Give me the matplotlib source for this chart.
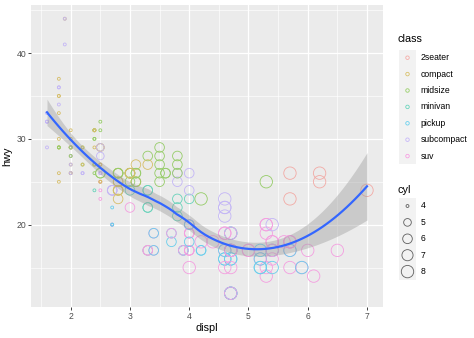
"""mpg: highway mileage vs engine displacement, coloured by class, sized by cyl,
with a loess smooth (span 0.75, quadratic) and its 95% band."""

import matplotlib

matplotlib.use("Agg")
import matplotlib.pyplot as plt
import numpy as np
from matplotlib.colors import to_rgb
from matplotlib.patches import Rectangle

# ---- data (one entry per car, same order in every list) ----
DISPL = [
    1.8, 1.8, 2.0, 2.0, 2.8, 2.8, 3.1,                       # audi a4
    1.8, 1.8, 2.0, 2.0, 2.8, 2.8, 3.1, 3.1,                  # a4 quattro
    2.8, 3.1, 4.2,                                           # a6 quattro
    5.3, 5.3, 5.3, 5.7, 6.0,                                 # suburban
    5.7, 5.7, 6.2, 6.2, 7.0,                                 # corvette
    5.3, 5.3, 5.7, 6.5,                                      # k1500 tahoe
    2.4, 2.4, 3.1, 3.5, 3.6,                                 # malibu
    2.4, 3.0, 3.3, 3.3, 3.3, 3.3, 3.3, 3.8, 3.8, 3.8, 4.0,   # caravan
    3.7, 3.7, 3.9, 3.9, 4.7, 4.7, 4.7, 5.2, 5.2,             # dakota
    3.9, 4.7, 4.7, 4.7, 5.2, 5.7, 5.9,                       # durango
    4.7, 4.7, 4.7, 4.7, 4.7, 4.7, 5.2, 5.2, 5.7, 5.9,        # ram 1500
    4.6, 5.4, 5.4,                                           # expedition
    4.0, 4.0, 4.0, 4.0, 4.6, 5.0,                            # explorer
    4.2, 4.2, 4.6, 4.6, 4.6, 5.4, 5.4,                       # f150
    3.8, 3.8, 4.0, 4.0, 4.6, 4.6, 4.6, 4.6, 5.4,             # mustang
    1.6, 1.6, 1.6, 1.6, 1.6, 1.8, 1.8, 1.8, 2.0,             # civic
    2.4, 2.4, 2.4, 2.4, 2.5, 2.5, 3.3,                       # sonata
    2.0, 2.0, 2.0, 2.0, 2.7, 2.7, 2.7,                       # tiburon
    3.0, 3.7, 4.0, 4.7, 4.7, 4.7, 5.7, 6.1,                  # grand cherokee
    4.0, 4.2, 4.4, 4.6,                                      # range rover
    5.4, 5.4, 5.4,                                           # navigator
    4.0, 4.0, 4.6, 5.0,                                      # mountaineer
    2.4, 2.4, 2.5, 2.5, 3.5, 3.5,                            # altima
    3.0, 3.0, 3.5,                                           # maxima
    3.3, 3.3, 4.0, 5.6,                                      # pathfinder
    3.1, 3.8, 3.8, 3.8, 5.3,                                 # grand prix
    2.5, 2.5, 2.5, 2.5, 2.5, 2.5,                            # forester
    2.2, 2.2, 2.5, 2.5, 2.5, 2.5, 2.5, 2.5,                  # impreza
    2.7, 2.7, 3.4, 3.4, 4.0, 4.7,                            # 4runner
    2.2, 2.2, 2.4, 2.4, 3.0, 3.0, 3.5,                       # camry
    2.2, 2.2, 2.4, 2.4, 3.0, 3.0, 3.3,                       # camry solara
    1.8, 1.8, 1.8, 1.8, 1.8,                                 # corolla
    4.7, 5.7,                                                # land cruiser
    2.7, 2.7, 2.7, 3.4, 3.4, 4.0, 4.0,                       # tacoma
    2.0, 2.0, 2.0, 2.0, 2.8,                                 # gti
    1.9, 2.0, 2.0, 2.0, 2.0, 2.5, 2.5, 2.8, 2.8,             # jetta
    1.9, 1.9, 2.0, 2.0, 2.5, 2.5,                            # new beetle
    1.8, 1.8, 2.0, 2.0, 2.8, 2.8, 3.6,                       # passat
]
HWY = [
    29, 29, 31, 30, 26, 26, 27,
    26, 25, 28, 27, 25, 25, 25, 25,
    24, 25, 23,
    20, 15, 20, 17, 17,
    26, 23, 26, 25, 24,
    19, 14, 15, 17,
    27, 30, 26, 29, 26,
    24, 24, 22, 22, 24, 24, 17, 22, 21, 23, 23,
    19, 18, 17, 17, 19, 19, 12, 17, 15,
    17, 17, 12, 17, 16, 18, 15,
    16, 12, 17, 17, 16, 12, 15, 16, 17, 15,
    17, 17, 18,
    17, 19, 17, 19, 19, 17,
    17, 17, 16, 16, 17, 15, 17,
    26, 25, 26, 24, 21, 22, 23, 22, 20,
    33, 32, 32, 29, 32, 34, 36, 36, 29,
    26, 27, 30, 31, 26, 26, 28,
    26, 29, 28, 27, 24, 24, 24,
    22, 19, 20, 17, 12, 19, 18, 14,
    15, 18, 18, 15,
    17, 16, 18,
    17, 19, 19, 17,
    29, 27, 31, 32, 27, 26,
    26, 25, 25,
    17, 17, 20, 18,
    26, 26, 27, 28, 25,
    25, 24, 27, 25, 26, 23,
    26, 26, 26, 26, 25, 27, 25, 27,
    20, 20, 19, 17, 20, 17,
    29, 27, 31, 31, 26, 26, 28,
    27, 29, 31, 31, 26, 26, 27,
    30, 33, 35, 37, 35,
    15, 18,
    20, 20, 22, 17, 19, 18, 20,
    29, 26, 29, 29, 24,
    44, 29, 26, 29, 29, 29, 29, 23, 24,
    44, 41, 29, 26, 28, 29,
    29, 29, 28, 29, 26, 26, 26,
]
CYL = [
    4, 4, 4, 4, 6, 6, 6,
    4, 4, 4, 4, 6, 6, 6, 6,
    6, 6, 8,
    8, 8, 8, 8, 8,
    8, 8, 8, 8, 8,
    8, 8, 8, 8,
    4, 4, 6, 6, 6,
    4, 6, 6, 6, 6, 6, 6, 6, 6, 6, 6,
    6, 6, 6, 6, 8, 8, 8, 8, 8,
    6, 8, 8, 8, 8, 8, 8,
    8, 8, 8, 8, 8, 8, 8, 8, 8, 8,
    8, 8, 8,
    6, 6, 6, 6, 8, 8,
    6, 6, 8, 8, 8, 8, 8,
    6, 6, 6, 6, 8, 8, 8, 8, 8,
    4, 4, 4, 4, 4, 4, 4, 4, 4,
    4, 4, 4, 4, 6, 6, 6,
    4, 4, 4, 4, 6, 6, 6,
    6, 6, 6, 8, 8, 8, 8, 8,
    8, 8, 8, 8,
    8, 8, 8,
    6, 6, 8, 8,
    4, 4, 4, 4, 6, 6,
    6, 6, 6,
    6, 6, 6, 8,
    6, 6, 6, 6, 8,
    4, 4, 4, 4, 4, 4,
    4, 4, 4, 4, 4, 4, 4, 4,
    4, 4, 6, 6, 6, 8,
    4, 4, 4, 4, 6, 6, 6,
    4, 4, 4, 4, 6, 6, 6,
    4, 4, 4, 4, 4,
    8, 8,
    4, 4, 4, 6, 6, 6, 6,
    4, 4, 4, 4, 6,
    4, 4, 4, 4, 4, 5, 5, 6, 6,
    4, 4, 4, 4, 5, 5,
    4, 4, 4, 4, 6, 6, 6,
]
CLASS = (
    ["compact"] * 15 + ["midsize"] * 3 + ["suv"] * 5 + ["2seater"] * 5
    + ["suv"] * 4 + ["midsize"] * 5 + ["minivan"] * 11 + ["pickup"] * 9
    + ["suv"] * 7 + ["pickup"] * 10 + ["suv"] * 9 + ["pickup"] * 7
    + ["subcompact"] * 18 + ["midsize"] * 7 + ["subcompact"] * 7
    + ["suv"] * 19 + ["compact"] * 2 + ["midsize"] * 7 + ["suv"] * 4
    + ["midsize"] * 5 + ["suv"] * 6 + ["subcompact"] * 4 + ["compact"] * 4
    + ["suv"] * 6 + ["midsize"] * 7 + ["compact"] * 12 + ["suv"] * 2
    + ["pickup"] * 7 + ["compact"] * 14 + ["subcompact"] * 6 + ["midsize"] * 7
)

CLASSES = ["2seater", "compact", "midsize", "minivan", "pickup", "subcompact", "suv"]
CLASS_COLORS = ["#F8766D", "#C49A00", "#53B400", "#00C094", "#00B6EB", "#A58AFF", "#FB61D7"]
CYL_LEVELS = [4, 5, 6, 7, 8]

DPI = 100
PX = 72 / DPI  # one output pixel in points
FONT = "Liberation Sans"
PANEL = "#EBEBEB"


def faded(col, bg=PANEL, a=0.55):
    """Thin, washed-out outline colour, pre-mixed so overlaps don't darken."""
    c, b = np.array(to_rgb(col)), np.array(to_rgb(bg))
    return tuple(a * c + (1 - a) * b)


def cyl_diameter_px(c):
    """ggplot area scale, range 1..6, mapped to a circle diameter in pixels."""
    return 1.9 * (1 + 5 * np.sqrt((np.asarray(c, float) - 4) / 4)) + 1.0


def loess(x, y, xs, span=0.75):
    """Local quadratic fit with tricube weights; returns fit and 95% half-width."""
    n = len(x)
    q = int(np.floor(n * span))

    def hat_rows(pts):
        rows = np.empty((len(pts), n))
        for i, x0 in enumerate(pts):
            d = np.abs(x - x0)
            h = np.sort(d)[q - 1]
            w = np.clip(1 - (d / h) ** 3, 0, None) ** 3
            X = np.column_stack([np.ones(n), x - x0, (x - x0) ** 2])
            XtW = X.T * w
            rows[i] = np.linalg.solve(XtW @ X, XtW)[0]
        return rows

    L = hat_rows(x)
    resid = y - L @ y
    M = np.eye(n) - L
    delta1 = np.trace(M.T @ M)
    sigma = np.sqrt(np.sum(resid ** 2) / delta1)
    Ls = hat_rows(xs)
    fit = Ls @ y
    se = sigma * np.sqrt(np.sum(Ls ** 2, axis=1))
    return fit, 1.97 * se


def main():
    x = np.array(DISPL, float)
    y = np.array(HWY, float)
    cyl = np.array(CYL)
    colour_of = dict(zip(CLASSES, CLASS_COLORS))

    fig = plt.figure(figsize=(474 / DPI, 338 / DPI), dpi=DPI)
    ax = fig.add_axes([31 / 474, 1 - 307 / 338, (383 - 31) / 474, (307 - 5) / 338])
    ax.set_facecolor(PANEL)
    for s in ax.spines.values():
        s.set_visible(False)

    xr, yr = x.max() - x.min(), y.max() - y.min()
    ax.set_xlim(x.min() - 0.05 * xr, x.max() + 0.05 * xr)
    ax.set_ylim(y.min() - 0.05 * yr, y.max() + 0.05 * yr)
    ax.set_xticks([2, 3, 4, 5, 6, 7])
    ax.set_yticks([20, 30, 40])
    ax.set_xticks([1.5, 2.5, 3.5, 4.5, 5.5, 6.5], minor=True)
    ax.set_yticks([15, 25, 35, 45], minor=True)
    ax.grid(which="major", color="white", lw=1.3 * PX)
    ax.grid(which="minor", color="white", lw=0.65 * PX)
    ax.set_axisbelow(True)
    ax.tick_params(which="major", length=2.6 * PX, width=0.9 * PX, color="#333333",
                   pad=2 * PX, labelsize=6.2, labelcolor="#4D4D4D")
    ax.tick_params(which="minor", length=0)
    for lab in ax.get_xticklabels() + ax.get_yticklabels():
        lab.set_fontfamily(FONT)

    # points in row order, like ggplot (later rows sit on top)
    ax.scatter(x, y, s=(cyl_diameter_px(cyl) * PX) ** 2, facecolors="none",
               edgecolors=[faded(colour_of[c]) for c in CLASS], linewidths=0.85 * PX)

    xs = np.linspace(x.min(), x.max(), 80)
    fit, hw = loess(x, y, xs)
    ax.fill_between(xs, fit - hw, fit + hw, color="#999999", alpha=0.4, lw=0)
    ax.plot(xs, fit, color="#3366FF", lw=2.2 * PX)

    ax.set_xlabel("displ", fontsize=7.8, family=FONT, labelpad=2.5 * PX)
    ax.set_ylabel("hwy", fontsize=7.8, family=FONT, labelpad=4 * PX)

    # legends drawn in pixel space on an overlay
    leg = fig.add_axes([0, 0, 1, 1], zorder=5)
    leg.set_xlim(0, 474)
    leg.set_ylim(338, 0)
    leg.axis("off")
    kx, kw, step = 399.5, 17, 16.4
    key_bg = "#F2F2F2"

    leg.text(398, 39, "class", fontsize=7.8, family=FONT, va="center")
    y0 = 57.7
    leg.add_patch(Rectangle((kx, y0 - step / 2), kw, step * len(CLASSES),
                            color=key_bg, lw=0))
    for i, (c, col) in enumerate(zip(CLASSES, CLASS_COLORS)):
        yy = y0 + i * step
        leg.scatter([kx + 8], [yy], s=(3.5 * PX) ** 2, facecolors="none",
                    edgecolors=[faded(col, key_bg)], linewidths=0.85 * PX)
        leg.text(420.5, yy, c, fontsize=6.2, family=FONT, va="center")

    leg.text(398, 190, "cyl", fontsize=7.8, family=FONT, va="center")
    y0 = 206
    leg.add_patch(Rectangle((kx, y0 - step / 2), kw, step * len(CYL_LEVELS),
                            color=key_bg, lw=0))
    for i, c in enumerate(CYL_LEVELS):
        yy = y0 + i * step
        leg.scatter([kx + 8], [yy], s=(cyl_diameter_px(c) * PX) ** 2,
                    facecolors="none", edgecolors=[faded("black", key_bg, 0.6)],
                    linewidths=0.85 * PX)
        leg.text(420.5, yy, str(c), fontsize=6.2, family=FONT, va="center")

    fig.savefig("out.png", dpi=DPI)
    plt.close(fig)


if __name__ == "__main__":
    main()
